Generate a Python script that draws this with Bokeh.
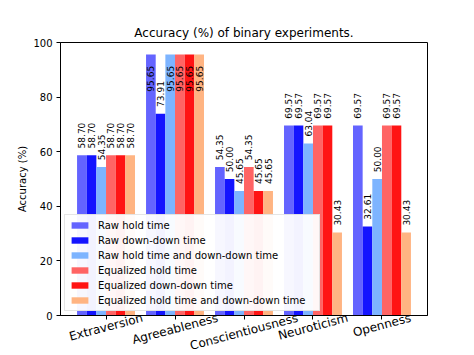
import math
from bokeh.plotting import figure
from bokeh.models import Range1d, FixedTicker, Legend, LegendItem, ColumnDataSource, LinearAxis
from bokeh.core.properties import value
from bokeh.embed import file_html
from bokeh.resources import INLINE

categories = ["Extraversion", "Agreeableness", "Conscientiousness", "Neuroticism", "Openness"]
raw_hold = [58.70, 95.65, 54.35, 69.57, 69.57]
raw_down_down = [58.70, 73.91, 50.00, 69.57, 32.61]
raw_both = [54.35, 95.65, 45.65, 63.04, 50.00]
eq_hold = [58.70, 95.65, 54.35, 69.57, 69.57]
eq_down_down = [58.70, 95.65, 45.65, 69.57, 69.57]
eq_both = [58.70, 95.65, 45.65, 30.43, 30.43]
series_names = ["Raw hold time", "Raw down-down time", "Raw hold time and down-down time",
                "Equalized hold time", "Equalized down-down time",
                "Equalized hold time and down-down time"]
series_colors = ["#6464ff", "#1414ff", "#7db4ff", "#ff6464", "#ff1414", "#ffb482"]
y_ticks = [0, 20, 40, 60, 80, 100]

series = [raw_hold, raw_down_down, raw_both, eq_hold, eq_down_down, eq_both]
FONT = "DejaVu Sans"
BAR_W = 0.14
X0, X1 = -0.66, 4.66
FRAME_W, FRAME_H = 367, 273
LABEL_PX = 12
ANGLE = 0.26

# DejaVu Sans advance widths (em) for centring the rotated category labels
ADV = {"E": .632, "x": .592, "t": .392, "r": .411, "a": .613, "v": .592, "e": .615,
       "s": .521, "i": .278, "o": .612, "n": .634, "A": .684, "g": .635, "b": .635,
       "l": .278, "C": .698, "c": .550, "u": .634, "N": .748, "O": .787, "p": .635,
       "m": .974}

p = figure(frame_width=FRAME_W, frame_height=FRAME_H, output_backend="svg",
           toolbar_location=None, x_range=Range1d(X0, X1), y_range=Range1d(0, 100),
           title="Accuracy (%) of binary experiments.")
p.min_border_left = 60
p.min_border_right = 39
p.min_border_top = 42
p.min_border_bottom = 37

p.title.text_font = FONT
p.title.text_font_size = "12px"
p.title.text_font_style = "normal"
p.title.text_color = "black"
p.title.align = "center"
p.title.standoff = 5

p.xgrid.visible = False
p.ygrid.visible = False
p.outline_line_color = "black"
p.outline_line_alpha = 1

items = []
for j, (name, vals, col) in enumerate(zip(series_names, series, series_colors)):
    xs = [i + (j - 2.5) * BAR_W for i in range(len(categories))]
    src = ColumnDataSource(dict(x=xs, top=vals,
                                ly=[min(v + 2.5, 82.0) for v in vals],
                                txt=["%.2f" % v for v in vals]))
    r = p.vbar(x="x", top="top", width=BAR_W, fill_color=col, line_color=None, source=src)
    items.append(LegendItem(label=name, renderers=[r]))
    p.text(x="x", y="ly", text="txt", angle=math.pi / 2, text_align="left",
           text_baseline="middle", text_font=value(FONT), text_font_size="9px",
           text_color="black", source=src)

legend = Legend(items=items, location="bottom_left")
legend.padding = 4
legend.margin = 4
legend.spacing = 3
legend.label_height = 12
legend.glyph_height = 8
legend.glyph_width = 21
legend.label_standoff = 8
legend.label_width = 217
legend.label_text_font = FONT
legend.label_text_font_size = "10px"
legend.label_text_color = "black"
legend.border_line_color = "#cccccc"
legend.background_fill_alpha = 0.95
p.add_layout(legend)

# tick axis (ticks at the group centres, labels drawn by the axis below)
p.xaxis.ticker = FixedTicker(ticks=list(range(len(categories))))
p.xaxis.major_label_overrides = {i: "" for i in range(len(categories))}
p.xaxis.major_label_text_font_size = "1px"
p.xaxis.major_label_standoff = 0
p.xaxis.minor_tick_line_color = None
p.xaxis.major_tick_in = 0
p.xaxis.major_tick_out = 4
p.xaxis.axis_line_color = "black"

# label axis: rotated labels, anchored so that each label is centred on its group
px_per_unit = FRAME_W / (X1 - X0)
label_pos = []
for i, c in enumerate(categories):
    w = sum(ADV.get(ch, 0.6) for ch in c) * LABEL_PX
    label_pos.append(round(i + (w / 2) * math.cos(ANGLE) / px_per_unit, 4))
lab_axis = LinearAxis(ticker=FixedTicker(ticks=label_pos),
                      major_label_overrides={t: c for t, c in zip(label_pos, categories)},
                      major_label_orientation=ANGLE,
                      major_label_text_font=FONT,
                      major_label_text_font_size="%dpx" % LABEL_PX,
                      major_label_text_color="black",
                      major_label_standoff=-8,
                      major_tick_line_color=None, minor_tick_line_color=None,
                      axis_line_color=None)
p.add_layout(lab_axis, "below")

p.yaxis.ticker = FixedTicker(ticks=y_ticks)
p.yaxis.axis_label = "Accuracy (%)"
p.yaxis.axis_label_text_font = FONT
p.yaxis.axis_label_text_font_size = "10px"
p.yaxis.axis_label_text_font_style = "normal"
p.yaxis.axis_label_text_color = "black"
p.yaxis.axis_label_standoff = 2
p.yaxis.major_label_text_font = FONT
p.yaxis.major_label_text_font_size = "10px"
p.yaxis.major_label_text_color = "black"
p.yaxis.minor_tick_line_color = None
p.yaxis.major_tick_in = 0
p.yaxis.major_tick_out = 4
p.yaxis.major_label_standoff = 4
p.yaxis.axis_line_color = "black"

open("out.html", "w").write(file_html(p, INLINE))
